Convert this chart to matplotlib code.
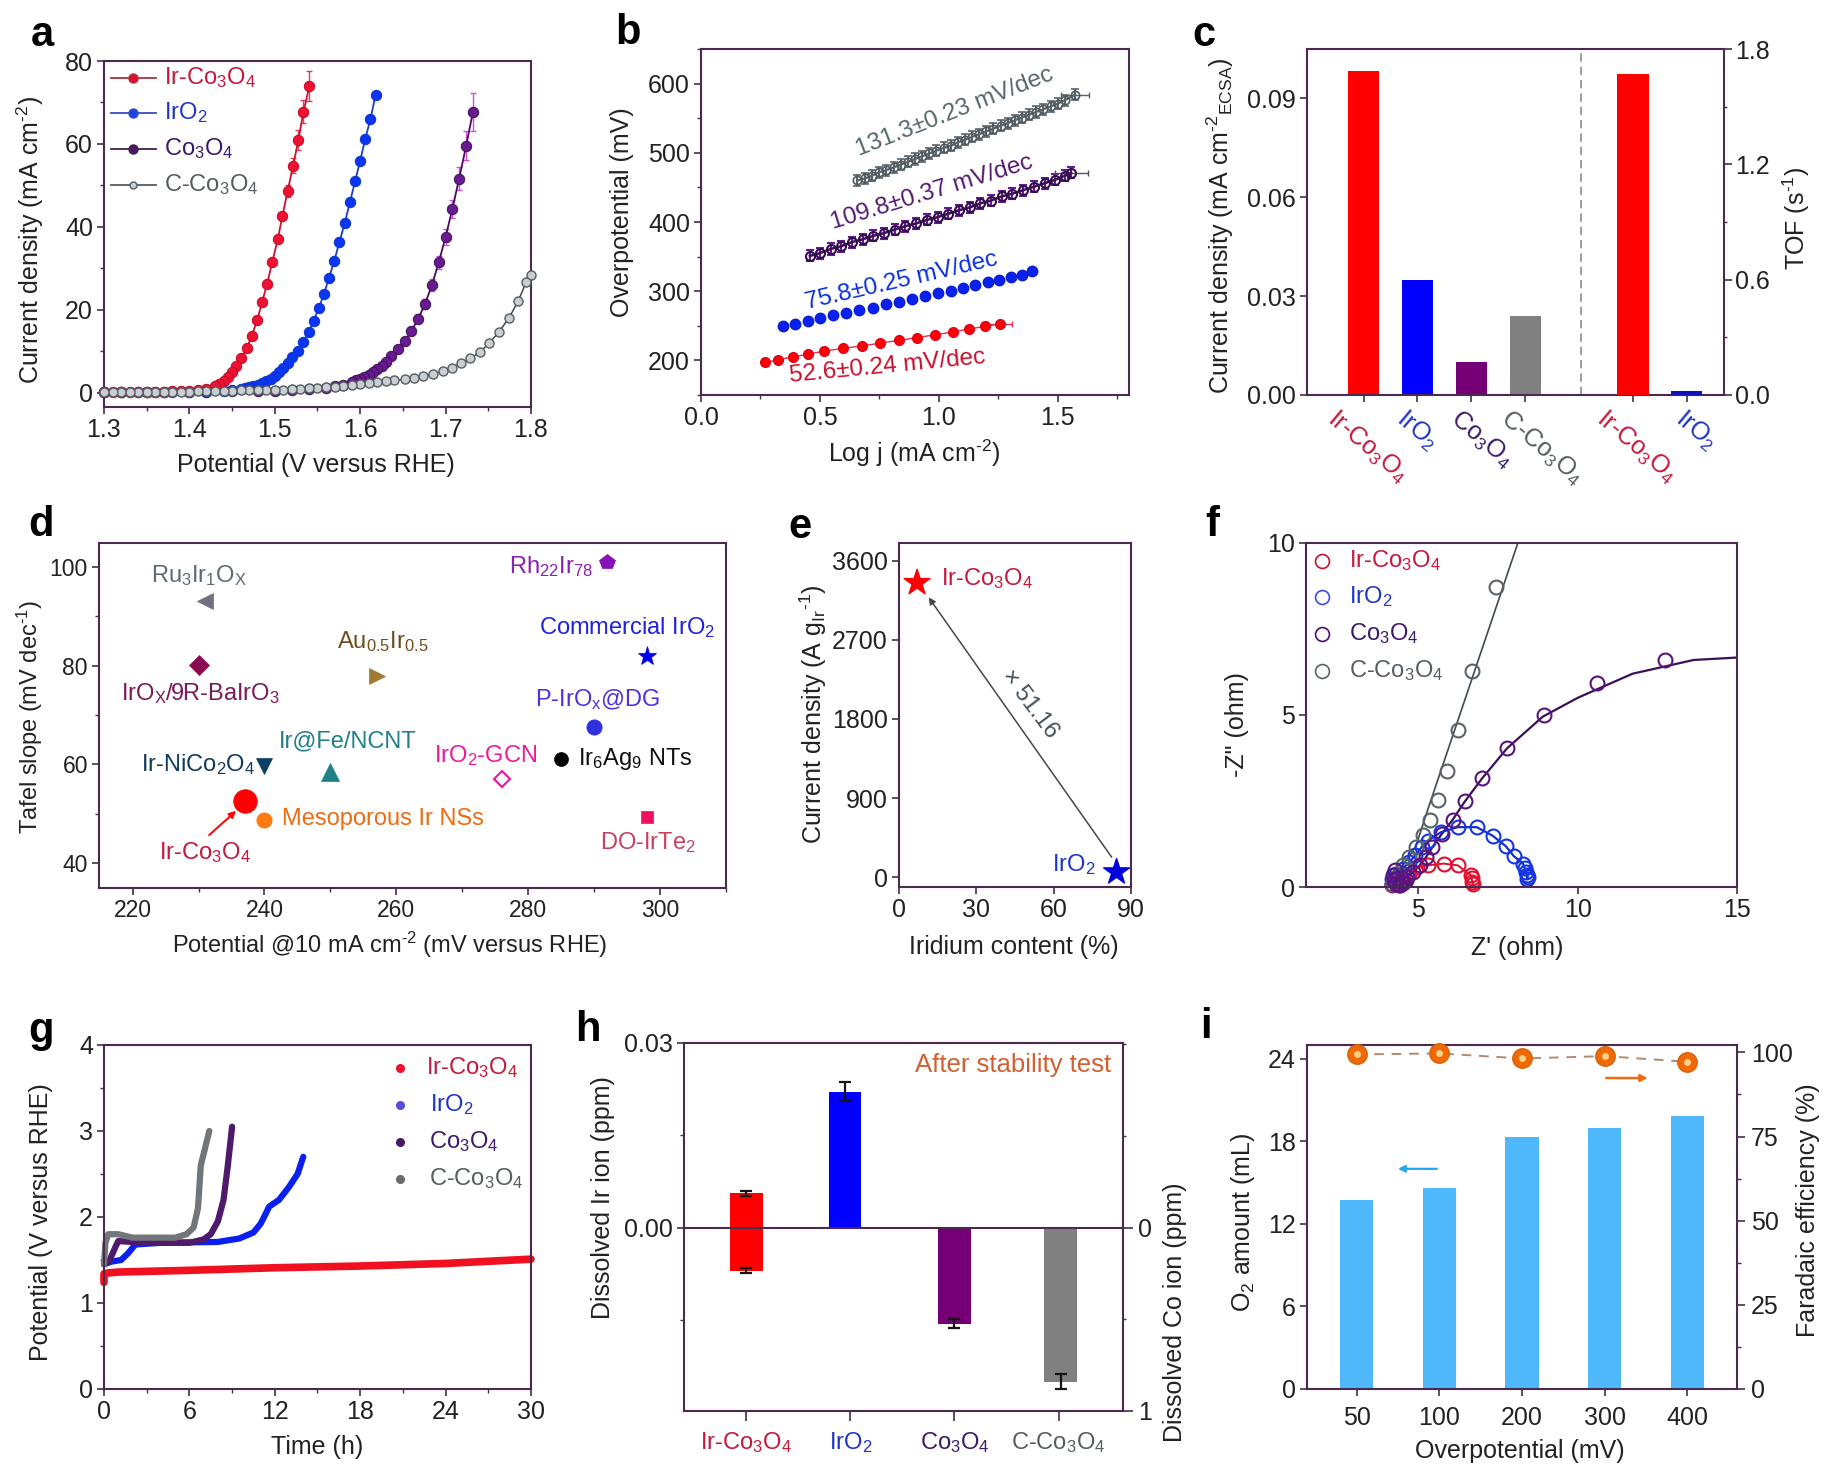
import matplotlib
matplotlib.use("Agg")
import matplotlib.pyplot as plt
from matplotlib.ticker import MultipleLocator
from matplotlib.transforms import ScaledTranslation

plt.rcParams['font.family'] = ['Liberation Sans', 'DejaVu Sans']
plt.rcParams['mathtext.fontset'] = 'custom'
plt.rcParams['mathtext.rm'] = 'Liberation Sans'
plt.rcParams['mathtext.default'] = 'regular'

W, H = 1840, 1472
FS = 18
FS_NOTE = 17
SPINE = '#4b2a4f'
TXT = '#222222'
RED, BLUE, PURPLE, GRAY = '#ff0000', '#0000ff', '#750075', '#808080'
T_RED, T_BLUE, T_PUR, T_GRAY = '#c4183c', '#1f35c8', '#3a1a6a', '#555c62'

IR = 'Ir-Co$_3$O$_4$'
IRO2 = 'IrO$_2$'
CO = 'Co$_3$O$_4$'
CCO = 'C-Co$_3$O$_4$'
NAMES = [IR, IRO2, CO, CCO]
NAME_COLORS = [T_RED, T_BLUE, T_PUR, T_GRAY]

# panel a: polarisation curves
a_ir_x = [1.5405, 1.5336, 1.5275, 1.5215, 1.515, 1.509, 1.5035, 1.497, 1.491, 1.485, 1.4795, 1.473, 1.4675, 1.461, 1.455,
          1.45, 1.445, 1.44, 1.435, 1.43, 1.42, 1.41, 1.40, 1.39, 1.38, 1.37, 1.36, 1.35, 1.34, 1.33, 1.32, 1.31, 1.30]
a_ir_y = [73.9, 67.8, 60.9, 54.8, 48.7, 42.7, 37.1, 31.5, 26.3, 21.8, 17.6, 13.8, 10.8, 8.4, 6.4,
          5.0, 3.9, 2.9, 2.2, 1.6, 1.0, 0.7, 0.5, 0.4, 0.4, 0.3, 0.3, 0.3, 0.2, 0.2, 0.2, 0.2, 0.2]
a_ir_err = [3.6, 2.8, 2.4, 1.8, 1.4, 1.0, 0.8, 0.6]
a_iro2_x = [1.618, 1.612, 1.606, 1.6, 1.594, 1.588, 1.582, 1.5757, 1.5697, 1.5636, 1.5576, 1.5516, 1.5456, 1.5396, 1.5336, 1.5275,
            1.52, 1.515, 1.51, 1.505, 1.50, 1.495, 1.49, 1.485, 1.48, 1.475, 1.47, 1.465, 1.46, 1.45, 1.44, 1.42, 1.40, 1.38, 1.36, 1.34, 1.32, 1.30]
a_iro2_y = [71.8, 66, 61.3, 56, 51, 46, 41, 36.4, 31.9, 27.8, 23.9, 20.5, 17.4, 14.7, 12.3, 10.2,
            8.6, 7.2, 6.0, 5.0, 4.1, 3.4, 2.9, 2.4, 2.0, 1.7, 1.4, 1.2, 1.0, 0.7, 0.5, 0.4, 0.3, 0.3, 0.2, 0.2, 0.2, 0.2]
a_co_x = [1.732, 1.7241, 1.7158, 1.708, 1.7, 1.692, 1.684, 1.676, 1.668, 1.66, 1.652, 1.644, 1.636, 1.63, 1.625, 1.62, 1.615, 1.61, 1.605,
          1.60, 1.595, 1.59, 1.58, 1.57, 1.56, 1.54, 1.52, 1.50, 1.48, 1.45, 1.42, 1.40, 1.37, 1.35, 1.32, 1.30]
a_co_y = [67.7, 59.6, 51.6, 44.4, 37.6, 31.5, 26, 21.5, 17.9, 14.9, 12.5, 10.5, 8.9, 7.5, 6.6, 5.7, 5.0, 4.4, 3.9,
          3.4, 3.0, 2.6, 2.0, 1.6, 1.3, 0.9, 0.6, 0.5, 0.4, 0.4, 0.3, 0.3, 0.2, 0.2, 0.2, 0.2]
a_co_err = [4.5, 3.5, 2.8, 2.2, 2.0, 1.6, 1.4, 1.2, 1.0, 0.9, 0.8]
a_c_x = [1.8, 1.7945, 1.785, 1.774, 1.7625, 1.751, 1.74, 1.729, 1.7186, 1.7075, 1.6965, 1.685, 1.674, 1.663, 1.652, 1.64, 1.63, 1.62, 1.61,
         1.60, 1.59, 1.58, 1.57, 1.56, 1.55, 1.54, 1.53, 1.52, 1.51, 1.50, 1.49, 1.48, 1.47, 1.46, 1.45, 1.44, 1.43, 1.42, 1.41,
         1.40, 1.39, 1.38, 1.37, 1.36, 1.35, 1.34, 1.33, 1.32, 1.31, 1.30]
a_c_y = [28.5, 26.8, 22.1, 18, 14.7, 12, 9.8, 8.3, 7.1, 6.1, 5.2, 4.6, 4.1, 3.7, 3.3, 3.0, 2.8, 2.6, 2.3,
         2.1, 1.9, 1.7, 1.5, 1.4, 1.2, 1.1, 1.0, 0.9, 0.8, 0.8, 0.7, 0.7, 0.6, 0.6, 0.5, 0.5, 0.4, 0.4, 0.4,
         0.3, 0.3, 0.3, 0.3, 0.2, 0.2, 0.2, 0.2, 0.2, 0.2, 0.2]

# panel b: Tafel plots
b_ir_x = [0.271, 0.325, 0.386, 0.451, 0.519, 0.599, 0.678, 0.754, 0.834, 0.91, 0.984, 1.06, 1.127, 1.194, 1.257]
b_ir_y = [197, 201, 205, 209, 213.5, 217.4, 221, 225, 229, 233, 237, 241, 245.5, 249, 253]
b_iro2_x = [0.346, 0.396, 0.448, 0.499, 0.554, 0.609, 0.664, 0.722, 0.777, 0.834, 0.889, 0.944, 0.997, 1.05, 1.102, 1.154, 1.205, 1.255, 1.303, 1.35, 1.393]
b_iro2_y = [249, 253, 257, 261, 265, 269, 273, 276, 281, 285, 289, 293, 297, 301, 305, 309, 313, 316.5, 321, 324, 329]
b_co_x = [0.458, 0.50, 0.545, 0.59, 0.635, 0.68, 0.725, 0.77, 0.815, 0.86, 0.905, 0.95, 0.995, 1.04, 1.085, 1.13, 1.175, 1.22, 1.265, 1.31, 1.355, 1.40, 1.445, 1.49, 1.53, 1.557]
b_co_y = [351, 355, 361, 365, 371, 375, 380, 384, 389, 394, 398, 403, 407, 412, 417, 421, 427, 431, 437, 441, 446, 451, 456, 461, 467, 471]
b_c_x = [0.657, 0.69, 0.72, 0.75, 0.78, 0.81, 0.84, 0.87, 0.90, 0.93, 0.96, 0.99, 1.02, 1.05, 1.08, 1.11, 1.14, 1.17, 1.20, 1.23, 1.26, 1.29, 1.32, 1.35, 1.38, 1.41, 1.44, 1.47, 1.50, 1.53, 1.573]
b_c_y = [460, 463, 467, 472, 475, 479, 483, 487, 491, 495, 499, 503, 507, 510, 515, 519, 523, 527, 531, 535, 539, 543, 547, 551, 555, 559, 563, 567, 571, 576, 584]

# panel c
c_pos = [0, 1, 2, 3]
c_current = [0.0982, 0.0349, 0.0100, 0.0240]
c_tof_pos = [5, 6]
c_tof = [1.668, 0.02]

# panel d: literature comparison
d_x = [231, 230, 257, 292, 298, 290, 285, 276, 250, 240, 237, 240, 298]
d_y = [93, 80.2, 77.8, 101, 82, 67.6, 61.1, 57, 58.5, 59.7, 52.6, 48.8, 49.3]
d_markers = ['<', 'D', '>', 'p', '*', 'o', 'o', 'D', '^', 'v', 'o', 'o', 's']
d_colors = ['#70707f', '#8b0a50', '#a07a30', '#8a10b8', '#0000ee', '#3030e0', '#000000', '#ffffff', '#1f8088', '#0c3f66', '#ff0000', '#ff7a10', '#f01060']
d_edges = ['#70707f', '#8b0a50', '#a07a30', '#8a10b8', '#0000ee', '#3030e0', '#000000', '#f0109a', '#1f8088', '#0c3f66', '#ff0000', '#ff7a10', '#f01060']
d_sizes = [12, 10, 12, 11.5, 14, 11, 10, 8, 13, 12, 17, 11, 9]
d_names = ['Ru$_3$Ir$_1$O$_X$', 'IrO$_X$/9R-BaIrO$_3$', 'Au$_{0.5}$Ir$_{0.5}$', 'Rh$_{22}$Ir$_{78}$', 'Commercial IrO$_2$', 'P-IrO$_x$@DG',
           'Ir$_6$Ag$_9$ NTs', 'IrO$_2$-GCN', 'Ir@Fe/NCNT', 'Ir-NiCo$_2$O$_4$', IR, 'Mesoporous Ir NSs', 'DO-IrTe$_2$']
d_label_x = [230, 230.2, 258, 283.4, 295, 290.5, 296.2, 273.6, 252.6, 229.9, 230.9, 257.9, 298.2]
d_label_y = [98.3, 74.3, 84.9, 100, 87.6, 73.1, 61.1, 61.7, 64.7, 60, 42.2, 48.9, 44.2]
d_label_colors = ['#5f6b74', '#7a1a5a', '#6b4e20', '#8a20b0', '#2222dd', '#5030e0', '#111111', '#f0189a', '#207f8a', '#123a5c', '#c4183c', '#f06a10', '#c84060']

# panel e
e_iridium = [7, 84.4]
e_density = [3351, 57]
e_colors = [RED, '#0000dd']

# panel f: Nyquist plots
f_ir_x = [6.72, 6.69, 6.67, 6.65, 6.23, 5.79, 5.3, 4.97, 4.71, 4.51, 4.31, 4.18]
f_ir_y = [0.08, 0.14, 0.25, 0.34, 0.63, 0.68, 0.63, 0.58, 0.39, 0.24, 0.14, 0.05]
f_iro2_x = [8.43, 8.41, 8.4, 8.37, 8.33, 8.28, 7.99, 7.75, 7.33, 6.83, 6.23, 5.7, 5.3, 5.1, 4.9, 4.71, 4.51, 4.31, 4.18, 4.18]
f_iro2_y = [0.3, 0.24, 0.36, 0.43, 0.56, 0.68, 0.9, 1.18, 1.49, 1.74, 1.74, 1.59, 1.35, 1.16, 0.92, 0.72, 0.53, 0.39, 0.24, 0.1]
f_co_x = [12.75, 10.6, 8.94, 7.78, 7.0, 6.46, 6.07, 5.73, 5.44, 5.24, 5.04, 4.84, 4.64, 4.44, 4.38, 4.3, 4.22, 4.2, 4.25, 4.32, 4.42, 4.52, 4.6]
f_co_y = [6.59, 5.93, 5.0, 4.03, 3.16, 2.49, 1.95, 1.54, 1.16, 0.87, 0.63, 0.43, 0.29, 0.15, 0.05, 0.1, 0.2, 0.35, 0.5, 0.25, 0.05, 0.12, 0.2]
f_co_fit_x = [15, 13.64, 11.72, 10, 8.9, 7.78, 7.0, 6.46, 6.07, 5.73, 5.44, 5.24, 5.04, 4.84, 4.64, 4.44, 4.38]
f_co_fit_y = [6.67, 6.6, 6.2, 5.5, 4.95, 4.03, 3.16, 2.49, 1.95, 1.54, 1.16, 0.87, 0.63, 0.43, 0.29, 0.15, 0.05]
f_c_x = [7.42, 6.68, 6.23, 5.89, 5.61, 5.36, 5.13, 4.91, 4.71, 4.51, 4.38, 4.25, 4.18]
f_c_y = [8.73, 6.29, 4.56, 3.37, 2.53, 1.94, 1.52, 1.16, 0.87, 0.63, 0.39, 0.19, 0.1]
f_c_fit_x = [8.12, 5.3, 4.91, 4.51, 4.25, 4.18]
f_c_fit_y = [10, 2.27, 1.16, 0.63, 0.19, 0.1]

# panel g: stability
g_ir_x = [0, 0, 0.3, 1, 6, 12, 18, 24, 30]
g_ir_y = [1.24, 1.34, 1.35, 1.36, 1.38, 1.41, 1.43, 1.46, 1.51]
g_iro2_x = [0, 0.5, 1.2, 1.7, 2.2, 4, 8, 9.5, 10.5, 11, 11.4, 11.6, 12.3, 13, 13.6, 14]
g_iro2_y = [1.45, 1.48, 1.5, 1.58, 1.68, 1.7, 1.71, 1.75, 1.82, 1.92, 2.05, 2.12, 2.2, 2.35, 2.5, 2.7]
g_co_x = [0, 0.4, 0.8, 1, 3, 6, 7, 7.5, 8, 8.4, 8.7, 9]
g_co_y = [1.45, 1.5, 1.65, 1.72, 1.7, 1.7, 1.74, 1.8, 1.95, 2.2, 2.6, 3.05]
g_c_x = [0, 0.1, 0.3, 1, 2, 5, 5.8, 6.3, 6.6, 6.8, 7.1, 7.4]
g_c_y = [1.45, 1.7, 1.8, 1.8, 1.76, 1.76, 1.8, 1.88, 2.1, 2.6, 2.8, 3.0]

# panel h: dissolved ions
h_ticks = [0, 1, 2, 3]
h_ir_pos = [0, 0.95]
h_ir = [0.00556, 0.0221]
h_ir_err = [0.0004, 0.0015]
h_co_pos = [0, 2, 3.02]
h_co = [0.234, 0.524, 0.84]
h_co_err = [0.012, 0.025, 0.042]
h_co_colors = [RED, PURPLE, GRAY]

# panel i
i_over = ['50', '100', '200', '300', '400']
i_o2 = [13.77, 14.64, 18.28, 19.0, 19.85]
i_fe = [99.4, 99.7, 98.2, 98.9, 97.2]

fig = plt.figure(figsize=(W / 100, H / 100), dpi=100, facecolor='white')


def make_axes(left, right, top, bottom):
    ax = fig.add_axes([left / W, 1 - bottom / H, (right - left) / W, (bottom - top) / H])
    ax.box_px = (left, right, top, bottom)
    for s in ax.spines.values():
        s.set_color(SPINE)
        s.set_linewidth(1.5)
    ax.tick_params(which='major', length=5, width=1.2, color=SPINE, labelsize=FS, labelcolor=TXT, pad=3)
    ax.tick_params(which='minor', length=3, width=1, color=SPINE)
    return ax


def labels(ax, xlabel=None, xpos=None, ylabel=None, ypos=None, fs=FS):
    left, right, top, bottom = ax.box_px
    if xlabel:
        ax.set_xlabel(xlabel, fontsize=fs, color=TXT, va='center')
        ax.xaxis.set_label_coords((xpos[0] - left) / (right - left), (bottom - xpos[1]) / (bottom - top))
    if ylabel:
        ax.set_ylabel(ylabel, fontsize=fs, color=TXT, va='center')
        ax.yaxis.set_label_coords((ypos[0] - left) / (right - left), (bottom - ypos[1]) / (bottom - top))


def ptext(x, y, s, **kw):
    kw.setdefault('fontsize', FS)
    kw.setdefault('va', 'center')
    return fig.text(x / W, 1 - y / H, s, **kw)


def pmark(x, y, **kw):
    # legend marks, placed in figure pixels
    fig.add_artist(plt.Line2D([v / W for v in x], [1 - v / H for v in y], **kw))


for s, x, y in [('a', 42, 35), ('b', 628, 33), ('c', 1204, 35), ('d', 41, 525), ('e', 800, 527),
                ('f', 1212, 525), ('g', 41, 1031), ('h', 588, 1030), ('i', 1206, 1027)]:
    ptext(x, y, s, fontsize=30, fontweight='bold', color='black', ha='center')

# --- a ---
ax = make_axes(104, 531, 61, 407)
ax.set_xlim(1.3, 1.8)
ax.set_ylim(-3.4, 80)
ax.set_xticks([1.3, 1.4, 1.5, 1.6, 1.7, 1.8])
ax.set_yticks([0, 20, 40, 60, 80])
ax.xaxis.set_minor_locator(MultipleLocator(0.05))
ax.yaxis.set_minor_locator(MultipleLocator(10))
ax.errorbar(a_ir_x[:8], a_ir_y[:8], yerr=a_ir_err, fmt='none', ecolor='#d8405a', elinewidth=1, capsize=2.5)
ax.errorbar(a_co_x[:11], a_co_y[:11], yerr=a_co_err, fmt='none', ecolor='#d050d0', elinewidth=1, capsize=2.5)
series_a = [(a_c_x, a_c_y, '#40484c', '#c9ced2', 6.5, '#555c62'), (a_co_x, a_co_y, '#4a0a6a', '#6a1a90', 7.5, '#3a1058'),
            (a_iro2_x, a_iro2_y, '#2040c0', '#0a35f5', 7.5, '#0a35c5'), (a_ir_x, a_ir_y, '#d01030', '#f01030', 7.5, '#c00828')]
for x, y, lc, fc, ms, ec in series_a[1:]:
    ax.plot(x, y, '-o', color=lc, lw=1.3, mfc=fc, mec=ec, ms=ms, mew=0.7, clip_on=False, zorder=3)
x, y, lc, fc, ms, ec = series_a[0]
ax.plot(x, y, '-o', color=lc, lw=1.1, mfc=fc, mec=ec, ms=ms, mew=1.0, clip_on=False, zorder=4)
labels(ax, 'Potential (V versus RHE)', (316, 465), r'Current density (mA cm$^{\text{-2}}$)', (30, 240))
leg_styles = [('#b03040', '#d8102c', 6.5), ('#3b4ac0', '#1a45e0', 6.5), ('#40204f', '#4a1a60', 6.5), ('#555c62', '#c9ced2', 5)]
for row, (name, tc, st) in enumerate(zip(NAMES, NAME_COLORS, leg_styles)):
    yy = [78, 113, 149, 185][row]
    pmark([111, 156], [yy, yy], color=st[0], lw=1.3)
    pmark([133], [yy], marker='o', mfc=st[1], mec=st[0], ms=st[2], lw=0)
    ptext(164, yy, name, color=tc, fontsize=FS_NOTE)

# --- b ---
ax = make_axes(701, 1129, 49, 395)
ax.set_xlim(0, 1.8)
ax.set_ylim(150, 650)
ax.set_xticks([0, 0.5, 1.0, 1.5])
ax.set_yticks([200, 300, 400, 500, 600])
ax.xaxis.set_minor_locator(MultipleLocator(0.25))
ax.yaxis.set_minor_locator(MultipleLocator(50))
ax.plot(b_ir_x, b_ir_y, '-o', color='#e0304a', lw=1, mfc=RED, mec='#e00020', ms=7, zorder=3)
ax.errorbar(b_ir_x[-1], b_ir_y[-1], xerr=0.05, fmt='none', ecolor='#e0304a', elinewidth=1, capsize=2.5)
ax.plot(b_iro2_x, b_iro2_y, 'o', mfc='#0a20f0', mec='#0a20d0', ms=7.5, zorder=3)
ax.errorbar(b_co_x, b_co_y, yerr=8, fmt='-o', color='#40105a', ecolor='#6a1a90', lw=1.8, elinewidth=1.6, capsize=3, capthick=1.4, mfc='none', mec='#30104a', mew=1.5, ms=6.5)
ax.errorbar(b_co_x[-1], b_co_y[-1], xerr=0.07, fmt='none', ecolor='#555555', elinewidth=1, capsize=2.5)
ax.errorbar(b_c_x, b_c_y, yerr=8, fmt='-o', color='#59636a', ecolor='#59636a', lw=1.6, elinewidth=1.5, capsize=3, capthick=1.3, mfc='none', mec='#505a60', mew=1.2, ms=6)
ax.errorbar(b_c_x[-1], b_c_y[-1], xerr=0.06, fmt='none', ecolor='#59636a', elinewidth=1, capsize=2.5)
ax.text(1.065, 559, '131.3±0.23 mV/dec', rotation=21.4, color='#55666c', fontsize=FS_NOTE + 0.5, ha='center', va='center')
ax.text(0.969, 443, '109.8±0.37 mV/dec', rotation=17, color='#551a70', fontsize=FS_NOTE + 0.5, ha='center', va='center')
ax.text(0.844, 315, '75.8±0.25 mV/dec', rotation=13, color='#0a30e0', fontsize=FS_NOTE + 0.5, ha='center', va='center')
ax.text(0.782, 191, '52.6±0.24 mV/dec', rotation=5.5, color='#c8102e', fontsize=FS_NOTE + 0.5, ha='center', va='center')
labels(ax, r'Log j (mA cm$^{\text{-2}}$)', (914, 453), 'Overpotential (mV)', (622, 212))

# --- c ---
ax = make_axes(1307, 1724, 49, 395)
ax.set_xlim(-1.05, 6.69)
ax.set_ylim(0, 0.105)
ax.set_yticks([0, 0.03, 0.06, 0.09])
ax.set_yticklabels(['0.00', '0.03', '0.06', '0.09'])
ax.bar(c_pos, c_current, width=0.58, color=[RED, BLUE, PURPLE, GRAY])
ax.set_xticks(c_pos + c_tof_pos)
ax.set_xticklabels(NAMES + NAMES[:2], rotation=-40, ha='center', va='top', fontsize=FS)
for lab, col, shift in zip(ax.get_xticklabels(), NAME_COLORS + NAME_COLORS[:2], [4, 0, 10, 17, 4, 9]):
    lab.set_color(col)
    lab.set_transform(lab.get_transform() + ScaledTranslation(shift / 100, 0, fig.dpi_scale_trans))
ax.axvline(4.04, color='#8a9094', lw=1.2, ls=(0, (5, 3)))
axr = ax.twinx()
for s in axr.spines.values():
    s.set_visible(False)
axr.set_ylim(0, 1.8)
axr.set_yticks([0, 0.6, 1.2, 1.8])
axr.yaxis.set_minor_locator(MultipleLocator(0.3))
axr.tick_params(which='major', length=6, width=1.2, color=SPINE, labelsize=FS, labelcolor=TXT, pad=2)
axr.tick_params(which='minor', length=2, width=1, color=SPINE)
axr.bar(c_tof_pos, c_tof, width=0.58, color=[RED, '#1010c0'])
labels(ax, None, None, r'Current density (mA cm$^{\text{-2}}$$_{ECSA}$)', (1220, 226))
ptext(1796, 218, r'TOF (s$^{\text{-1}}$)', rotation=90, ha='center', color=TXT)

# --- d ---
ax = make_axes(99, 726, 543, 888)
ax.set_xlim(214.9, 310)
ax.set_ylim(35, 104.8)
ax.set_xticks([220, 240, 260, 280, 300])
ax.set_yticks([40, 60, 80, 100])
ax.xaxis.set_minor_locator(MultipleLocator(10))
ax.yaxis.set_minor_locator(MultipleLocator(10))
ax.tick_params(which='major', labelsize=16.5)
for px, py, mk, fc, ec, ms in zip(d_x, d_y, d_markers, d_colors, d_edges, d_sizes):
    ax.plot([px], [py], mk, mfc=fc, mec=ec, ms=ms, mew=1.5 if fc == '#ffffff' else 0.5, ls='none')
for lx, ly, name, col in zip(d_label_x, d_label_y, d_names, d_label_colors):
    ax.text(lx, ly, name, color=col, fontsize=17, ha='center', va='center')
ax.annotate('', xy=(235.7, 50.6), xytext=(231.6, 45.7), arrowprops=dict(arrowstyle='-|>', color=RED, lw=1.4, shrinkA=0, shrinkB=0))
labels(ax, r'Potential @10 mA cm$^{\text{-2}}$ (mV versus RHE)', (390, 945), r'Tafel slope (mV dec$^{\text{-1}}$)', (30, 717), fs=17)

# --- e ---
ax = make_axes(899, 1131, 543, 887)
ax.set_xlim(0, 90)
ax.set_ylim(-113, 3804)
ax.set_xticks([0, 30, 60, 90])
ax.set_yticks([0, 900, 1800, 2700, 3600])
ax.scatter(e_iridium, e_density, marker='*', s=380, c=e_colors, zorder=3)
ax.annotate('', xy=(11.5, 3185), xytext=(82.5, 227), arrowprops=dict(arrowstyle='-|>', color='#44484c', lw=1.1, shrinkA=0, shrinkB=0))
ax.text(34.3, 3400, IR, color=T_RED, fontsize=FS_NOTE, ha='center', va='center')
ax.text(67.9, 140, IRO2, color=T_BLUE, fontsize=FS_NOTE, ha='center', va='center')
ax.text(50.8, 1972, '× 51.16', color='#44505a', fontsize=FS_NOTE, rotation=-53, ha='center', va='center')
labels(ax, 'Iridium content (%)', (1014, 947), r'Current density (A g$_{Ir}$$^{\text{-1}}$)', (813, 714))

# --- f ---
ax = make_axes(1306, 1737, 543, 887)
ax.set_xlim(1.47, 15)
ax.set_ylim(0, 10)
ax.set_xticks([5, 10, 15])
ax.set_yticks([0, 5, 10])
ax.plot(f_c_fit_x, f_c_fit_y, color='#404a50', lw=1.2)
ax.plot(f_co_fit_x, f_co_fit_y, color='#3a1058', lw=1.6)
ax.plot(f_iro2_x, f_iro2_y, color='#1030d0', lw=1.6)
ax.plot(f_ir_x, f_ir_y, color='#e01030', lw=1.4)
for x, y, col in [(f_ir_x, f_ir_y, '#e01030'), (f_iro2_x, f_iro2_y, '#1535e0'), (f_c_x, f_c_y, '#59636a'), (f_co_x, f_co_y, '#5a1480')]:
    ax.plot(x, y, 'o', mfc='none', mec=col, ms=10, mew=1.5, clip_on=False)
labels(ax, "Z' (ohm)", (1517, 948), '-Z" (ohm)', (1237, 725))
for row, (name, tc, mc) in enumerate(zip(NAMES, NAME_COLORS, ['#c8102e', '#3a50e0', '#4a1070', '#59636a'])):
    yy = [561, 597, 634, 671][row]
    pmark([1322], [yy], marker='o', mfc='none', mec=mc, ms=10, mew=1.2, lw=0)
    ptext(1349, yy, name, color=tc, fontsize=FS_NOTE)

# --- g ---
ax = make_axes(104, 531, 1045, 1389)
ax.set_xlim(0, 30)
ax.set_ylim(0, 4)
ax.set_xticks([0, 6, 12, 18, 24, 30])
ax.set_yticks([0, 1, 2, 3, 4])
ax.xaxis.set_minor_locator(MultipleLocator(3))
ax.yaxis.set_minor_locator(MultipleLocator(0.5))
ax.plot(g_iro2_x, g_iro2_y, color='#0a20f0', lw=4.5, solid_capstyle='round', clip_on=False)
ax.plot(g_co_x, g_co_y, color='#4f1a6b', lw=4.5, solid_capstyle='round', clip_on=False)
ax.plot(g_c_x, g_c_y, color='#72767a', lw=4.5, solid_capstyle='round', clip_on=False)
ax.plot(g_ir_x, g_ir_y, color='#f01020', lw=5.5, solid_capstyle='round', clip_on=False)
labels(ax, 'Time (h)', (317, 1447), 'Potential (V versus RHE)', (41, 1222))
for row, (name, tc, mc) in enumerate(zip(NAMES, NAME_COLORS, ['#f01030', '#5a4ae0', '#4a1a60', '#6a6a70'])):
    yy = [1068, 1105, 1142, 1179][row]
    pmark([400], [yy], marker='o', mfc=mc, mec=mc, ms=5.5, lw=0)
    ptext([426, 430, 429, 429][row], yy, name, color=tc, fontsize=FS_NOTE)

# --- h ---
ax = make_axes(684, 1123, 1043, 1411)
ax.set_xlim(-0.6, 3.62)
ax.set_ylim(-0.0298, 0.03)
ax.set_yticks([0, 0.03])
ax.set_yticklabels(['0.00', '0.03'])
ax.yaxis.set_minor_locator(MultipleLocator(0.015))
ax.set_xticks(h_ticks)
ax.set_xticklabels(NAMES, fontsize=FS_NOTE)
ax.tick_params(axis='x', which='major', length=7, pad=7)
for lab, col in zip(ax.get_xticklabels(), NAME_COLORS):
    lab.set_color(col)
ax.bar(h_ir_pos, h_ir, width=0.31, color=[RED, BLUE], yerr=h_ir_err, ecolor='#151515', error_kw=dict(capsize=4, elinewidth=1.6, capthick=1.6))
axr = ax.twinx()
for s in axr.spines.values():
    s.set_visible(False)
axr.set_ylim(1.0, -1.007)
axr.set_yticks([0, 1])
axr.yaxis.set_minor_locator(MultipleLocator(0.5))
axr.tick_params(which='major', length=7, width=1.2, color=SPINE, labelsize=FS, labelcolor=TXT, pad=4)
axr.tick_params(which='minor', length=2, width=1, color=SPINE)
axr.bar(h_co_pos, h_co, width=0.31, color=h_co_colors, yerr=h_co_err, ecolor='#151515', error_kw=dict(capsize=4, elinewidth=1.6, capthick=1.6))
axr.axhline(0, color=SPINE, lw=1.5)
ptext(1013, 1065, 'After stability test', color='#d06030', ha='center', fontsize=18.5)
labels(ax, None, None, 'Dissolved Ir ion (ppm)', (603, 1198))
ptext(1175, 1312, 'Dissolved Co ion (ppm)', rotation=90, ha='center', color=TXT)

# --- i ---
ax = make_axes(1307, 1737, 1045, 1389)
ax.set_xlim(-0.6, 4.6)
ax.set_ylim(0, 25)
ax.set_yticks([0, 6, 12, 18, 24])
pos = list(range(len(i_over)))
ax.set_xticks(pos)
ax.set_xticklabels(i_over)
ax.tick_params(axis='x', pad=7)
ax.bar(pos, i_o2, width=0.4, color='#4fb8fb')
ax.annotate('', xy=(0.5, 16.0), xytext=(0.97, 16.0), arrowprops=dict(arrowstyle='-|>', color='#20a8f0', lw=1.6, shrinkA=0, shrinkB=0))
ax.annotate('', xy=(3.52, 22.6), xytext=(3.02, 22.6), arrowprops=dict(arrowstyle='-|>', color='#f06a10', lw=1.8, shrinkA=0, shrinkB=0))
axr = ax.twinx()
for s in axr.spines.values():
    s.set_visible(False)
axr.set_ylim(0, 102.2)
axr.set_yticks([0, 25, 50, 75, 100])
axr.yaxis.set_minor_locator(MultipleLocator(12.5))
axr.tick_params(which='major', length=6, width=1.2, color=SPINE, labelsize=FS, labelcolor=TXT, pad=4)
axr.tick_params(which='minor', length=3, width=1, color=SPINE)
axr.plot(pos, i_fe, color='#b08a70', lw=1.4, ls=(0, (5, 4)))
axr.plot(pos, i_fe, 'o', mfc='#ee6a08', mec='#e06000', ms=14, clip_on=False, zorder=5)
axr.plot(pos, i_fe, 'o', mfc='#ffd080', mec='none', ms=5, clip_on=False, zorder=6)
labels(ax, 'Overpotential (mV)', (1520, 1451), 'O$_2$ amount (mL)', (1243, 1222))
ptext(1808, 1210, 'Faradaic efficiency (%)', rotation=90, ha='center', color=TXT)

fig.savefig('out.png', dpi=100)
